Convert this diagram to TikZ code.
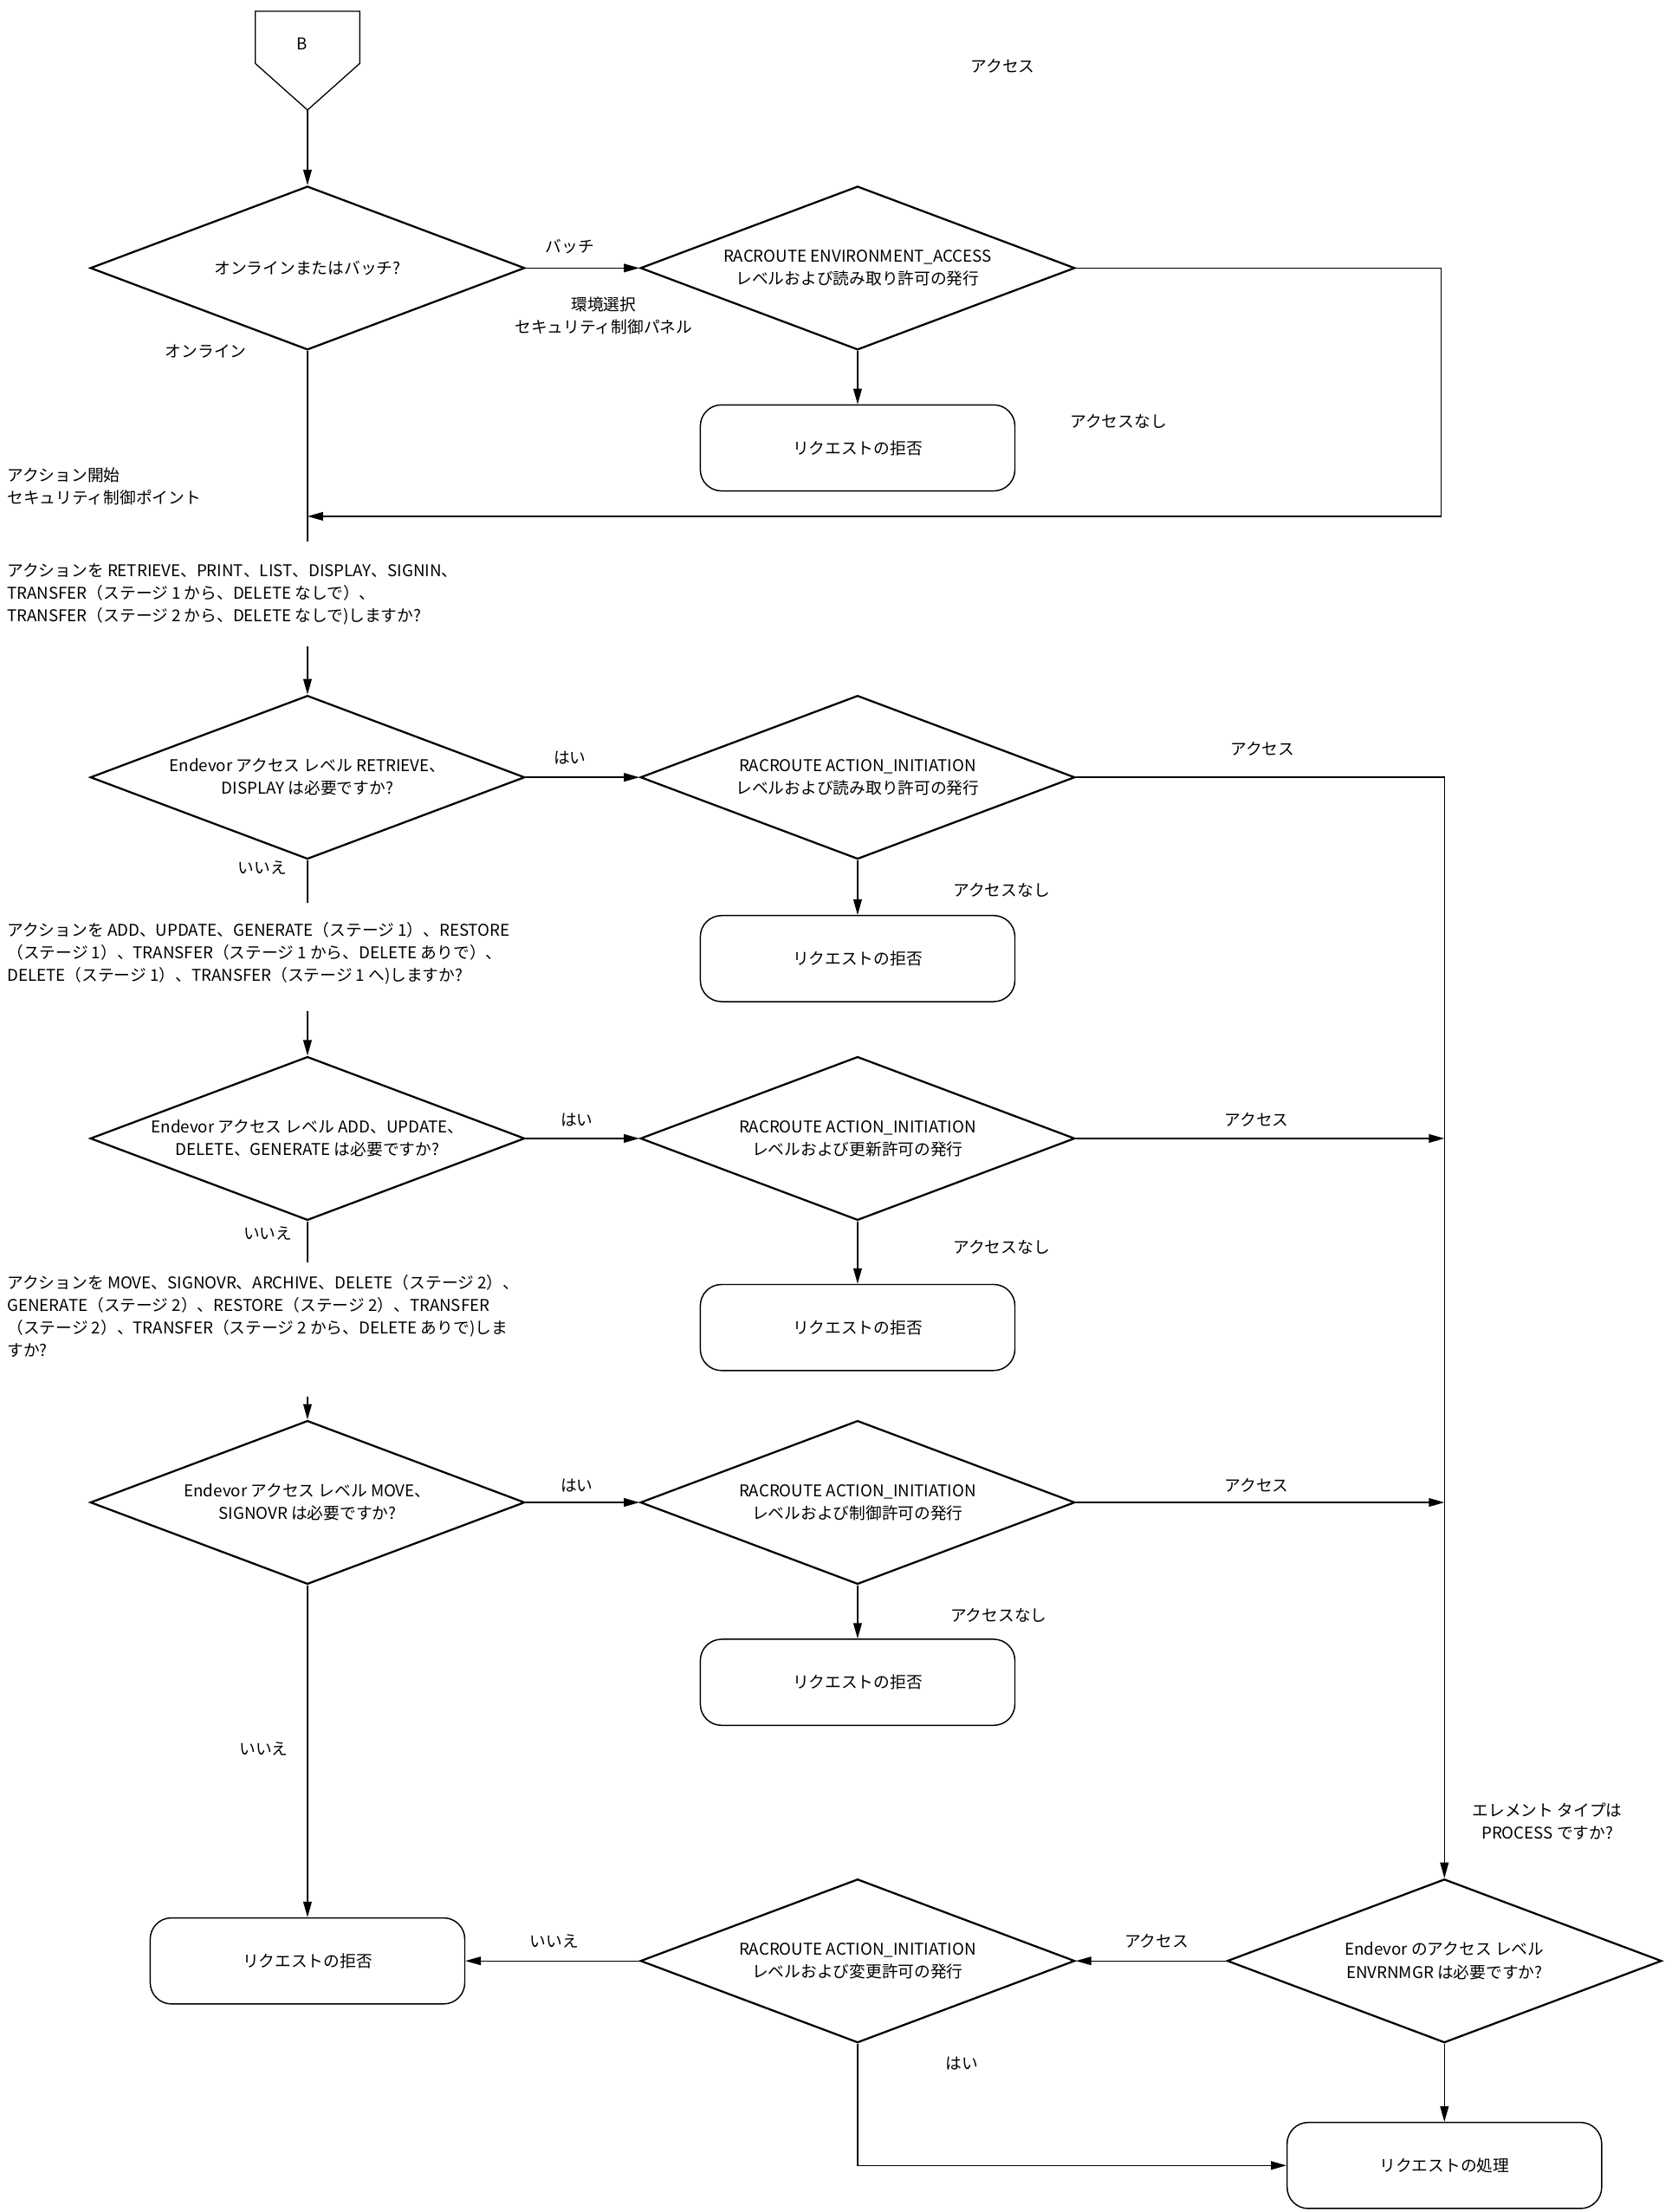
\documentclass[tikz,border=0pt]{standalone}
\usepackage{fontspec}
\setmainfont{Noto Sans CJK JP}
\usetikzlibrary{arrows.meta, positioning, shapes.geometric}

\tikzset{
  decision/.style={diamond, draw, line width=1.4pt, aspect=2.65,
    minimum width=308pt, minimum height=116pt, inner sep=0pt, align=center},
  denybox/.style={draw, line width=0.9pt, rounded corners=15pt,
    minimum width=223pt, minimum height=61pt},
  lbl/.style={inner sep=1pt, align=center},
  qtext/.style={anchor=west, align=left, inner sep=0pt},
  flow/.style={->, line width=0.8pt},
  plain/.style={line width=0.8pt},
}

\begin{document}
\begin{tikzpicture}[x=1pt, y=-1pt, >={Triangle[length=11pt, width=6pt]},
  font=\fontsize{11.5}{16}\selectfont]

% Canvas
\useasboundingbox (0,0) rectangle (1185,1568);

% Off-page connector
\draw[line width=0.8pt] (181,8) -- (255,8) -- (255,45) -- (218,78) -- (181,45) -- cycle;
\node[lbl] (bconn) at (214,31) {B};
\coordinate (btip) at (218,78);

% First decision
\node[decision] (chan) at (218,190) {オンラインまたはバッチ?};
\node[decision] (envacc) at (608,190) {RACROUTE ENVIRONMENT\_ACCESS\\レベルおよび読み取り許可の発行};
\node[denybox] (deny1) at (608,317.5) {リクエストの拒否};

\node[lbl] (tacc0) at (711,47) {アクセス};
\node[lbl] (tbatch) at (404,175) {バッチ};
\node[lbl] (tpanel) at (428,224) {環境選択\\セキュリティ制御パネル};
\node[lbl] (tonline) at (146,249) {オンライン};
\node[lbl] (tnone1) at (793,299) {アクセスなし};
\node[qtext] (tpoint) at (5,345) {アクション開始\\セキュリティ制御ポイント};

\coordinate (m1) at (218,366);
\coordinate (s0) at (218,384);

% Retrieve level
\node[qtext] (q1) at (5,421) {アクションを RETRIEVE、PRINT、LIST、DISPLAY、SIGNIN、\\TRANSFER（ステージ 1 から、DELETE なしで）、\\TRANSFER（ステージ 2 から、DELETE なしで)しますか?};
\coordinate (s1) at (218,458);
\node[decision] (lvl1) at (218,551) {Endevor アクセス レベル RETRIEVE、\\DISPLAY は必要ですか?};
\node[decision] (act1) at (608,551) {RACROUTE ACTION\_INITIATION\\レベルおよび読み取り許可の発行};
\node[denybox] (deny2) at (608,679.5) {リクエストの拒否};
\coordinate (s2) at (218,640);

\node[lbl] (tyes1) at (404,537) {はい};
\node[lbl] (tacc1) at (895,531) {アクセス};
\node[lbl] (tno1) at (186,615) {いいえ};
\node[lbl] (tnone2) at (710,631) {アクセスなし};

% Update level
\node[qtext] (q2) at (5,676) {アクションを ADD、UPDATE、GENERATE（ステージ 1）、RESTORE\\（ステージ 1）、TRANSFER（ステージ 1 から、DELETE ありで）、\\DELETE（ステージ 1）、TRANSFER（ステージ 1 へ)しますか?};
\coordinate (s3) at (218,717);
\node[decision] (lvl2) at (218,807) {Endevor アクセス レベル ADD、UPDATE、\\DELETE、GENERATE は必要ですか?};
\node[decision] (act2) at (608,807) {RACROUTE ACTION\_INITIATION\\レベルおよび更新許可の発行};
\node[denybox] (deny3) at (608,941) {リクエストの拒否};
\coordinate (s4) at (218,895);

\node[lbl] (tyes2) at (409,794) {はい};
\node[lbl] (tacc2) at (891,794) {アクセス};
\node[lbl] (tno2) at (190,874) {いいえ};
\node[lbl] (tnone3) at (710,884) {アクセスなし};

% Control level
\node[qtext] (q3) at (5,933) {アクションを MOVE、SIGNOVR、ARCHIVE、DELETE（ステージ 2）、\\GENERATE（ステージ 2）、RESTORE（ステージ 2）、TRANSFER\\（ステージ 2）、TRANSFER（ステージ 2 から、DELETE ありで)しま\\すか?};
\coordinate (s5) at (218,990);
\node[decision] (lvl3) at (218,1065) {Endevor アクセス レベル MOVE、\\SIGNOVR は必要ですか?};
\node[decision] (act3) at (608,1065) {RACROUTE ACTION\_INITIATION\\レベルおよび制御許可の発行};
\node[denybox] (deny4) at (608,1192.5) {リクエストの拒否};

\node[lbl] (tyes3) at (409,1053) {はい};
\node[lbl] (tacc3) at (891,1053) {アクセス};
\node[lbl] (tnone4) at (708,1145) {アクセスなし};
\node[lbl] (tno3) at (187,1240) {いいえ};

% Process type
\node[lbl] (tproc) at (1097,1291) {エレメント タイプは\\PROCESS ですか?};
\node[decision] (envr) at (1024,1390) {Endevor のアクセス レベル\\ENVRNMGR は必要ですか?};
\node[decision] (act4) at (608,1390) {RACROUTE ACTION\_INITIATION\\レベルおよび変更許可の発行};
\node[denybox] (deny5) at (218,1390) {リクエストの拒否};
\node[denybox] (done) at (1024,1535) {リクエストの処理};

\node[lbl] (tacc4) at (820,1376) {アクセス};
\node[lbl] (tno4) at (393,1376) {いいえ};
\node[lbl] (tyes4) at (682,1463) {はい};

% Connectors
\draw[flow] (btip) -- (chan.north);
\draw[flow] (chan.east) -- (envacc.west);
\draw[flow] (envacc.south) -- (deny1.north);
\draw[flow] (envacc.east) -- ++(259,0) |- (m1);
\draw[plain] (chan.south) -- (s0);

\draw[flow] (s1) -- (lvl1.north);
\draw[flow] (lvl1.east) -- (act1.west);
\draw[flow] (act1.south) -- (deny2.north);
\draw[flow] (act1.east) -| (envr.north);
\draw[plain] (lvl1.south) -- (s2);

\draw[flow] (s3) -- (lvl2.north);
\draw[flow] (lvl2.east) -- (act2.west);
\draw[flow] (act2.south) -- (deny3.north);
\draw[flow] (act2.east) -- (act2.east -| envr.north);
\draw[plain] (lvl2.south) -- (s4);

\draw[flow] (s5) -- (lvl3.north);
\draw[flow] (lvl3.east) -- (act3.west);
\draw[flow] (act3.south) -- (deny4.north);
\draw[flow] (act3.east) -- (act3.east -| envr.north);
\draw[flow] (lvl3.south) -- (deny5.north);

\draw[flow] (envr.west) -- (act4.east);
\draw[flow] (act4.west) -- (deny5.east);
\draw[flow] (act4.south) |- (done.west);
\draw[flow] (envr.south) -- (done.north);

\end{tikzpicture}
\end{document}
